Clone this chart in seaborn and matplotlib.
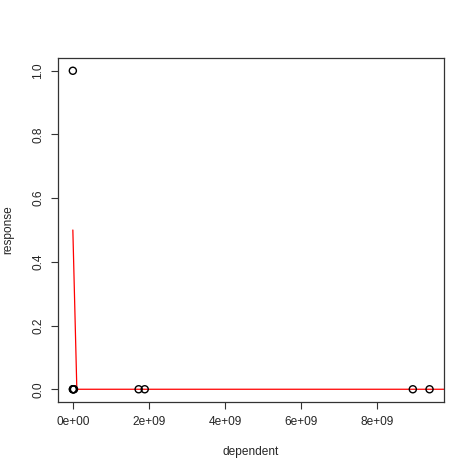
import numpy as np
import pandas as pd
import matplotlib
matplotlib.use("Agg")
import matplotlib.pyplot as plt
import seaborn as sns

# observed points
dependent = [0.0, 1.0e6, 4.0e6, 1.5e7, 3.0e7, 1.73e9, 1.89e9, 8.94e9, 9.38e9]
response = [1, 0, 0, 0, 0, 0, 0, 0, 0]

# fitted curve
fit_x = [0.0, 1.05e8, 9.76e9]
fit_y = [0.5, 0.0, 0.0]

x_ticks = [0, 2e9, 4e9, 6e9, 8e9]
x_labels = ["0e+00", "2e+09", "4e+09", "6e+09", "8e+09"]
y_ticks = [0.0, 0.2, 0.4, 0.6, 0.8, 1.0]
y_labels = ["0.0", "0.2", "0.4", "0.6", "0.8", "1.0"]

sns.set_style("ticks")
plt.rcParams['font.family'] = ['Liberation Sans', 'DejaVu Sans']

df = pd.DataFrame({"dependent": dependent, "response": response})
fit = pd.DataFrame({"x": fit_x, "y": fit_y})

fig = plt.figure(figsize=(4.74, 4.74), dpi=100)
ax = fig.add_axes([0.1224, 0.1519, 0.8143, 0.7257])

sns.scatterplot(data=df, x="dependent", y="response", ax=ax,
                marker="o", s=26, facecolor="none", edgecolor="black",
                linewidth=1.0, zorder=3)
sns.lineplot(data=fit, x="x", y="y", ax=ax, color="#ff0000",
             linewidth=0.9, zorder=2, sort=False)

ax.set_xlim(-3.9e8, 9.76e9)
ax.set_ylim(-0.04, 1.04)
ax.set_xticks(x_ticks)
ax.set_xticklabels(x_labels)
ax.set_yticks(y_ticks)
ax.set_yticklabels(y_labels, rotation=90, va="center")

for s in ax.spines.values():
    s.set_visible(True)
    s.set_color("#333333")
    s.set_linewidth(0.9)

ax.tick_params(axis="both", length=5, width=0.8, color="#333333",
               labelsize=8.6, pad=5)
ax.set_xlabel("dependent", fontsize=8.6, labelpad=13)
ax.set_ylabel("response", fontsize=8.6, labelpad=13)

fig.savefig("out.png", dpi=100)
